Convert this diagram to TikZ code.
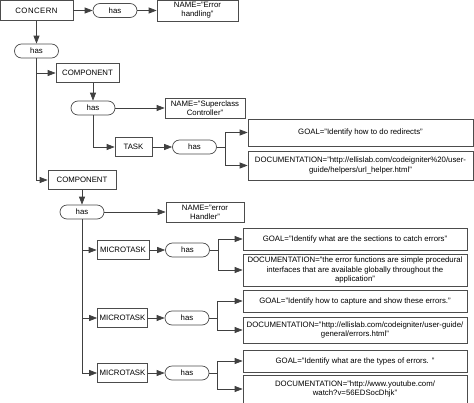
\documentclass[tikz,border=0pt]{standalone}
\usepackage{fontspec}
\setmainfont{Liberation Sans}
\usetikzlibrary{arrows.meta}

\begin{document}
\begin{tikzpicture}[x = 1pt, y = -1pt,
    every node/.style = {font = \fontsize{7.8}{9.2}\selectfont, inner sep = 1pt},
    item/.style = {draw = black!70, fill = white, line width = 0.7pt, minimum height = 19pt, align = center},
    has/.style = {draw = black!70, fill = white, line width = 0.7pt, rounded corners = 7pt, minimum width = 44pt, minimum height = 14pt},
    attr/.style = {draw = black!70, fill = white, line width = 0.7pt, minimum width = 224pt, align = center},
    link/.style = {draw = black!75, line width = 0.7pt, -{Triangle[length = 8pt, width = 6pt]}}]
            \clip (0,0) rectangle (474,402);

            % concern
            \node[item, minimum width = 73pt, minimum height = 20pt] (concern) at (36.5,10.5) {\addfontfeature{LetterSpace = 6}CONCERN};
            \node[has] (has1) at (115,10.5) {has};
            \node[item, minimum width = 81pt, minimum height = 21pt] (name1) at (197.5,10.5) {NAME="Error\\handling"};
            \node[has] (has2) at (36.5,51) {has};

            % first component
            \node[item, minimum width = 63pt] (comp1) at (87.5,73) {COMPONENT};
            \node[has] (has3) at (93,108) {has};
            \node[item, minimum width = 80pt, minimum height = 20pt] (name2) at (205,108) {NAME="Superclass\\Controller"};
            \node[item, minimum width = 37pt] (task) at (133.5,147) {TASK};
            \node[has] (has4) at (194.5,147) {has};
            \node[attr, minimum width = 225pt, minimum height = 27pt] (goal0) at (360.5,132.5) {GOAL="Identify how to do redirects"};
            \node[attr, minimum width = 225pt, minimum height = 29pt] (doc0) at (360.5,165.5) {DOCUMENTATION="http://ellislab.com/codeigniter\%20/user-\\guide/helpers/url\_helper.html"};

            % second component
            \node[item, minimum width = 68pt] (comp2) at (82,180) {COMPONENT};
            \node[has] (has5) at (82,212) {has};
            \node[item, minimum width = 78pt, minimum height = 20pt] (name3) at (205,212) {NAME="error\\Handler"};

            \node[item, minimum width = 52pt] (micro1) at (123,250) {MICROTASK};
            \node[has] (has6) at (187.5,250) {has};
            \node[attr, minimum height = 22pt] (goal1) at (355,239) {GOAL="Identify what are the sections to catch errors"};
            \node[attr, minimum height = 32pt] (doc1) at (355,270) {DOCUMENTATION="the error functions are simple procedural\\interfaces that are available globally throughout the\\application"};

            \node[item, minimum width = 50pt] (micro2) at (122.5,318) {MICROTASK};
            \node[has] (has7) at (187,318) {has};
            \node[attr, minimum height = 22pt] (goal2) at (355,301) {GOAL="Identify how to capture and show these errors."};
            \node[attr, minimum height = 26pt] (doc2) at (355,330) {DOCUMENTATION="http://ellislab.com/codeigniter/user-guide/\\general/errors.html"};

            \node[item, minimum width = 50pt] (micro3) at (122.5,373) {MICROTASK};
            \node[has] (has8) at (187,373) {has};
            \node[attr, minimum height = 22pt] (goal3) at (355,361) {GOAL="Identify what are the types of errors. "};
            \node[attr, minimum height = 28pt] (doc3) at (355,389) {DOCUMENTATION="http://www.youtube.com/\\watch?v=56EDSocDhjk"};

            % connectors
            \draw[link] (concern) -- (has1);
            \draw[link] (has1) -- (name1);
            \draw[link] (concern) -- (has2);
            \draw[link] (has2.south) |- (comp1.west);
            \draw[link] (has2.south) |- (comp2.west);

            \draw[link] (has3.north |- comp1.south) -- (has3.north);
            \draw[link] (has3) -- (name2);
            \draw[link] (has3.south) |- (task.west);
            \draw[link] (task) -- (has4);
            \draw[link] (has4.east) -- ++(8,0) |- (goal0.west);
            \draw[link] (has4.east) -- ++(8,0) |- (doc0.west);

            \draw[link] (has5.north |- comp2.south) -- (has5.north);
            \draw[link] (has5) -- (name3);
            \draw[link] (has5.south) |- (micro1.west);
            \draw[link] (has5.south) |- (micro2.west);
            \draw[link] (has5.south) |- (micro3.west);

            \draw[link] (micro1) -- (has6);
            \draw[link] (has6.east) -- ++(8,0) |- (goal1.west);
            \draw[link] (has6.east) -- ++(8,0) |- (doc1.west);
            \draw[link] (micro2) -- (has7);
            \draw[link] (has7.east) -- ++(8,0) |- (goal2.west);
            \draw[link] (has7.east) -- ++(8,0) |- (doc2.west);
            \draw[link] (micro3) -- (has8);
            \draw[link] (has8.east) -- ++(8,0) |- (goal3.west);
            \draw[link] (has8.east) -- ++(8,0) |- (doc3.west);
        \end{tikzpicture}
\end{document}
